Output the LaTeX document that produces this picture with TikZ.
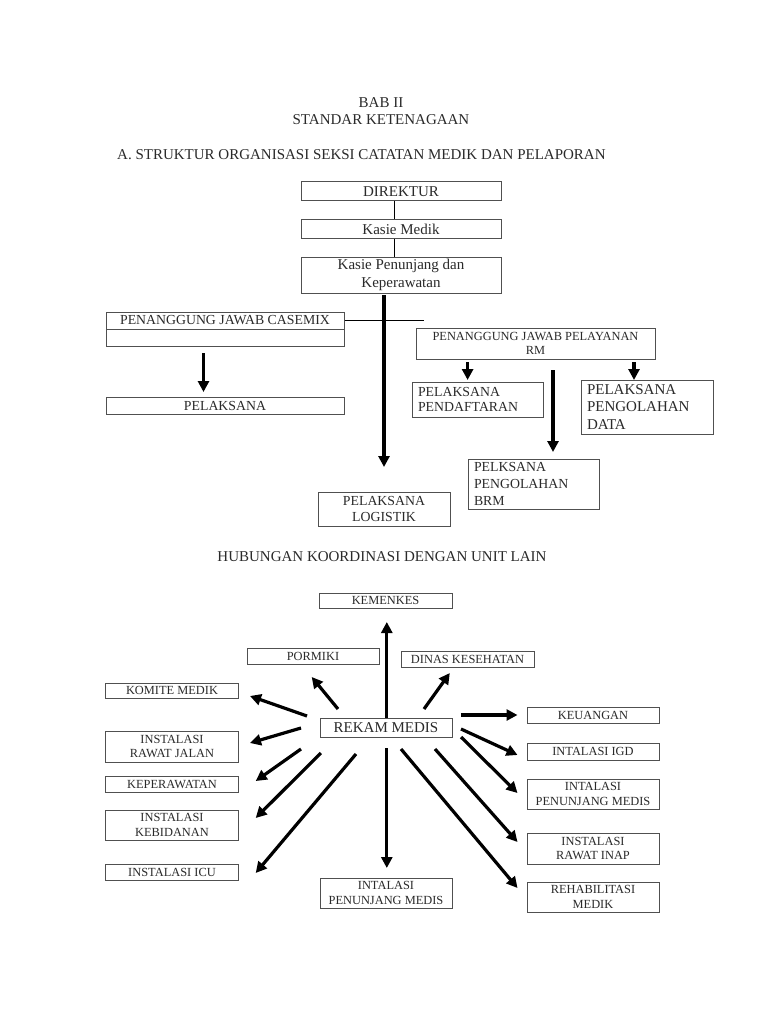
\documentclass[tikz,border=0pt]{standalone}
\usepackage{fontspec}
\setmainfont{Liberation Serif}
\usetikzlibrary{arrows.meta}
\definecolor{txt}{HTML}{2A2A2A}
\definecolor{brd}{HTML}{505050}
\tikzset{
  box/.style={draw=brd, line width=1pt, fill=white, inner sep=0pt, text=txt, align=center},
  bigf/.style={font=\fontsize{15}{17.5}\selectfont},
  midf/.style={font=\fontsize{13.8}{15.5}\selectfont},
  smlf/.style={font=\fontsize{12.4}{14.5}\selectfont},
  lbox/.style={box, align=left, text width=#1, inner xsep=6pt},
  harrow/.style={-{Triangle[length=11pt,width=11pt]}, line width=3.2pt, black},
  thin/.style={draw=black, line width=0.9pt},
  title/.style={text=txt, inner sep=0pt, font=\fontsize{15}{17.5}\selectfont}
}
\begin{document}
\begin{tikzpicture}[x=1pt,y=-1pt]
\useasboundingbox (0,0) rectangle (768,1024);
\fill[white] (0,0) rectangle (768,1024);

% titles
\node[title] (bab) at (381,103) {BAB II};
\node[title] (std) at (381,120) {STANDAR KETENAGAAN};
\node[title, anchor=west] (secA) at (117,155) {A. STRUKTUR ORGANISASI SEKSI CATATAN MEDIK DAN PELAPORAN};
\node[title] (hub) at (382,557) {HUBUNGAN KOORDINASI DENGAN UNIT LAIN};

% upper chart
\node[box, bigf, minimum width=200, minimum height=19] (direktur) at (401,191.5) {DIREKTUR};
\node[box, bigf, minimum width=200, minimum height=18] (kmedik) at (401,229) {Kasie Medik};
\node[box, bigf, minimum width=200, minimum height=36] (kpen) at (401,275) {Kasie Penunjang dan\\Keperawatan};
\draw[thin] (direktur.south -| 394,0) -- (kmedik.north -| 394,0);
\draw[thin] (kmedik.south -| 394,0) -- (kpen.north -| 394,0);

\node[box, midf, minimum width=238, minimum height=17] (casemix) at (225,320.5) {PENANGGUNG JAWAB CASEMIX};
\node[box, minimum width=238, minimum height=17] (casemixb) at (225,337.5) {};
\node[box, midf, minimum width=238, minimum height=17] (pelaksana) at (225,405.5) {PELAKSANA};
\node[box, smlf, minimum width=239, minimum height=31] (pjrm) at (535.5,343.5) {PENANGGUNG JAWAB PELAYANAN\\RM};
\node[lbox=119, midf, minimum height=35] (pendaftaran) at (477.5,399.5) {PELAKSANA\\PENDAFTARAN};
\node[lbox=120, bigf, minimum height=54] (pdata) at (647,407) {PELAKSANA\\PENGOLAHAN\\DATA};
\node[lbox=119, minimum height=50, font=\fontsize{13.8}{16.7}\selectfont] (brm) at (533.5,484) {PELKSANA\\PENGOLAHAN\\BRM};
\node[box, midf, minimum width=132, minimum height=34] (logistik) at (384,509) {PELAKSANA\\LOGISTIK};

\coordinate (hend) at (424,320.5);
\draw[thin] (casemix.east) -- (hend);
\coordinate (a1s) at (384,295); \coordinate (a1e) at (384,467);
\draw[harrow] (a1s) -- (a1e);
\coordinate (a2s) at (203.5,353); \coordinate (a2e) at (203.5,392);
\draw[harrow] (a2s) -- (a2e);
\coordinate (a3s) at (467.6,362); \coordinate (a3e) at (467.6,380);
\draw[harrow] (a3s) -- (a3e);
\coordinate (a4s) at (634,362); \coordinate (a4e) at (634,380);
\draw[harrow] (a4s) -- (a4e);
\coordinate (a5s) at (553,370); \coordinate (a5e) at (553,452);
\draw[harrow] (a5s) -- (a5e);

% lower chart
\node[box, smlf, minimum width=133, minimum height=15] (kemenkes) at (385.5,600.5) {KEMENKES};
\node[box, smlf, minimum width=132, minimum height=16] (pormiki) at (313,656) {PORMIKI};
\node[box, smlf, minimum width=133, minimum height=16] (dinas) at (467.5,659) {DINAS KESEHATAN};
\node[box, smlf, minimum width=133, minimum height=15] (komite) at (172,690.5) {KOMITE MEDIK};
\node[box, bigf, minimum width=132, minimum height=19] (rekam) at (386,727.5) {REKAM MEDIS};
\node[box, smlf, minimum width=132, minimum height=16] (keuangan) at (593,715) {KEUANGAN};
\node[box, smlf, minimum width=133, minimum height=31] (rjalan) at (172,746.5) {INSTALASI\\RAWAT JALAN};
\node[box, smlf, minimum width=132, minimum height=17] (igd) at (593,751.5) {INTALASI IGD};
\node[box, smlf, minimum width=133, minimum height=16] (keperawatan) at (172,784) {KEPERAWATAN};
\node[box, smlf, minimum width=132, minimum height=30] (penmedr) at (593,794) {INTALASI\\PENUNJANG MEDIS};
\node[box, smlf, minimum width=133, minimum height=30] (kebidanan) at (172,825) {INSTALASI\\KEBIDANAN};
\node[box, smlf, minimum width=132, minimum height=31] (rinap) at (593,848.5) {INSTALASI\\RAWAT INAP};
\node[box, smlf, minimum width=133, minimum height=16] (icu) at (172,872) {INSTALASI ICU};
\node[box, smlf, minimum width=132, minimum height=30] (penmedb) at (386,893) {INTALASI\\PENUNJANG MEDIS};
\node[box, smlf, minimum width=132, minimum height=30] (rehab) at (593,897) {REHABILITASI\\MEDIK};

\draw[harrow] (rekam.north -| 386.8,0) -- (386.8,622);
\draw[harrow] (338,709) -- (311.7,677);
\draw[harrow] (424,709) -- (449.8,673);
\draw[harrow] (307,716) -- (250,696);
\draw[harrow] (301,728) -- (250,743);
\draw[harrow] (301,749) -- (255.7,781);
\draw[harrow] (320.8,753) -- (255.7,818);
\draw[harrow] (356,754) -- (255.7,873);
\draw[harrow] (386.8,748) -- (386.8,868);
\draw[harrow] (460.8,715) -- (517.5,715);
\draw[harrow] (461,729) -- (517.5,755);
\draw[harrow] (461,737) -- (517.5,793);
\draw[harrow] (435,749) -- (517.5,842);
\draw[harrow] (401,749) -- (517.5,888);
\end{tikzpicture}
\end{document}
